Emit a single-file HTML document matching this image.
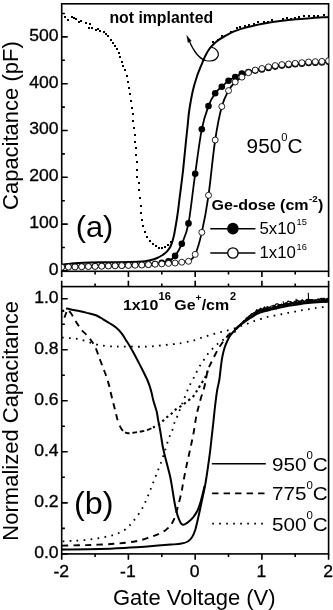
<!DOCTYPE html>
<html><head><meta charset="utf-8"><title>C-V curves</title>
<style>
html,body{margin:0;padding:0;background:#fff;}
body{width:333px;height:610px;overflow:hidden;}
svg{display:block;}
text{font-family:"Liberation Sans",Arial,sans-serif;}
</style></head><body>
<svg width="333" height="610" viewBox="0 0 333 610">
<rect width="333" height="610" fill="#fff"/>
<g stroke="#000" stroke-width="1.6" fill="none">
<rect x="61.7" y="3.8" width="266.9" height="267.5"/>
<rect x="61.7" y="286.6" width="266.9" height="267.3"/>
<path d="M61.7,271.3V277.1M61.7,286.6V280.8M61.7,553.9V559.7M95.1,271.3V274.5M95.1,286.6V283.4M95.1,553.9V557.1M128.4,271.3V277.1M128.4,286.6V280.8M128.4,553.9V559.7M161.8,271.3V274.5M161.8,286.6V283.4M161.8,553.9V557.1M195.2,271.3V277.1M195.2,286.6V280.8M195.2,553.9V559.7M228.5,271.3V274.5M228.5,286.6V283.4M228.5,553.9V557.1M261.9,271.3V277.1M261.9,286.6V280.8M261.9,553.9V559.7M295.2,271.3V274.5M295.2,286.6V283.4M295.2,553.9V557.1M328.6,271.3V277.1M328.6,286.6V280.8M328.6,553.9V559.7M61.7,270.9H67.7M61.7,247.5H64.9M61.7,224.1H67.7M61.7,200.7H64.9M61.7,177.3H67.7M61.7,153.9H64.9M61.7,130.5H67.7M61.7,107.1H64.9M61.7,83.7H67.7M61.7,60.3H64.9M61.7,36.9H67.7M61.7,13.5H64.9M61.7,553.9H67.7M61.7,528.4H64.9M61.7,502.9H67.7M61.7,477.3H64.9M61.7,451.8H67.7M61.7,426.3H64.9M61.7,400.8H67.7M61.7,375.3H64.9M61.7,349.7H67.7M61.7,324.2H64.9M61.7,298.7H67.7"/>
</g>
<g fill="#000" stroke="#000" stroke-width="0.3">
<text font-size="16.00" text-anchor="end" transform="translate(58.60,274.70) scale(1.100,1)">0</text>
<text font-size="16.00" text-anchor="end" transform="translate(58.60,227.90) scale(1.100,1)">100</text>
<text font-size="16.00" text-anchor="end" transform="translate(58.60,181.10) scale(1.100,1)">200</text>
<text font-size="16.00" text-anchor="end" transform="translate(58.60,134.30) scale(1.100,1)">300</text>
<text font-size="16.00" text-anchor="end" transform="translate(58.60,87.50) scale(1.100,1)">400</text>
<text font-size="16.00" text-anchor="end" transform="translate(58.60,40.70) scale(1.100,1)">500</text>
<text font-size="16.00" text-anchor="end" transform="translate(58.60,558.30) scale(1.100,1)">0.0</text>
<text font-size="16.00" text-anchor="end" transform="translate(58.60,507.26) scale(1.100,1)">0.2</text>
<text font-size="16.00" text-anchor="end" transform="translate(58.60,456.22) scale(1.100,1)">0.4</text>
<text font-size="16.00" text-anchor="end" transform="translate(58.60,405.18) scale(1.100,1)">0.6</text>
<text font-size="16.00" text-anchor="end" transform="translate(58.60,354.14) scale(1.100,1)">0.8</text>
<text font-size="16.00" text-anchor="end" transform="translate(58.60,303.10) scale(1.100,1)">1.0</text>
<text font-size="16.00" text-anchor="middle" transform="translate(61.20,577.30) scale(1.100,1)">-2</text>
<text font-size="16.00" text-anchor="middle" transform="translate(127.93,577.30) scale(1.100,1)">-1</text>
<text font-size="16.00" text-anchor="middle" transform="translate(194.65,577.30) scale(1.100,1)">0</text>
<text font-size="16.00" text-anchor="middle" transform="translate(261.38,577.30) scale(1.100,1)">1</text>
<text font-size="16.00" text-anchor="middle" transform="translate(328.10,577.30) scale(1.100,1)">2</text>
</g>
<text font-size="22.00" text-anchor="middle" transform="translate(17.80,125.60) rotate(-90)">Capacitance (pF)</text>
<text font-size="22.00" text-anchor="middle" transform="translate(17.80,420.80) rotate(-90)">Normalized Capacitance</text>
<text font-size="22.00" text-anchor="middle" transform="translate(194.30,604.80)">Gate Voltage (V)</text>
<g fill="#000">
<rect x="64" y="16" width="2" height="2"/>
<rect x="67" y="19" width="2" height="2"/>
<rect x="71" y="16" width="2" height="2"/>
<rect x="73" y="17" width="2" height="2"/>
<rect x="75" y="18" width="2" height="2"/>
<rect x="78" y="21" width="2" height="2"/>
<rect x="80" y="20" width="2" height="2"/>
<rect x="85" y="22" width="2" height="2"/>
<rect x="89" y="23" width="2" height="2"/>
<rect x="88" y="27" width="2" height="2"/>
<rect x="91" y="27" width="2" height="2"/>
<rect x="95" y="29" width="2" height="2"/>
<rect x="97" y="28" width="2" height="2"/>
<rect x="99" y="30" width="2" height="2"/>
<rect x="103" y="31" width="2" height="2"/>
<rect x="105" y="33" width="2" height="2"/>
<rect x="107" y="35" width="2" height="2"/>
<rect x="110" y="39" width="2" height="2"/>
<rect x="112" y="42" width="2" height="2"/>
<rect x="114" y="45" width="2" height="2"/>
<rect x="116" y="48" width="2" height="2"/>
<rect x="118" y="52" width="2" height="2"/>
<rect x="119" y="56" width="2" height="2"/>
<rect x="121" y="61" width="2" height="2"/>
<rect x="122" y="65" width="2" height="2"/>
<rect x="124" y="69" width="2" height="2"/>
<rect x="126" y="75" width="2" height="2"/>
<rect x="127" y="81" width="2" height="2"/>
<rect x="128" y="87" width="2" height="2"/>
<rect x="129" y="93" width="2" height="2"/>
<rect x="130" y="100" width="2" height="2"/>
<rect x="131" y="107" width="2" height="2"/>
<rect x="132" y="113" width="2" height="2"/>
<rect x="132" y="120" width="2" height="2"/>
<rect x="133" y="127" width="2" height="2"/>
<rect x="134" y="134" width="2" height="2"/>
<rect x="134" y="141" width="2" height="2"/>
<rect x="135" y="147" width="2" height="2"/>
<rect x="135" y="154" width="2" height="2"/>
<rect x="136" y="161" width="2" height="2"/>
<rect x="136" y="169" width="2" height="2"/>
<rect x="136" y="176" width="2" height="2"/>
<rect x="138" y="182" width="2" height="2"/>
<rect x="138" y="189" width="2" height="2"/>
<rect x="139" y="197" width="2" height="2"/>
<rect x="140" y="205" width="2" height="2"/>
<rect x="140" y="212" width="2" height="2"/>
<rect x="141" y="219" width="2" height="2"/>
<rect x="142" y="225" width="2" height="2"/>
<rect x="144" y="231" width="2" height="2"/>
<rect x="146" y="236" width="2" height="2"/>
<rect x="149" y="240" width="2" height="2"/>
<rect x="152" y="243" width="2" height="2"/>
<rect x="155" y="245" width="2" height="2"/>
<rect x="158" y="247" width="2" height="2"/>
<rect x="161" y="247" width="2" height="2"/>
<rect x="164" y="246" width="2" height="2"/>
<rect x="167" y="244" width="2" height="2"/>
<rect x="170" y="241" width="2" height="2"/>
<rect x="212" y="41" width="2" height="2"/>
<rect x="217" y="39" width="2" height="2"/>
<rect x="221" y="35" width="2" height="2"/>
<rect x="230" y="31" width="2" height="2"/>
<rect x="236" y="27" width="2" height="2"/>
<rect x="239" y="26" width="2" height="2"/>
<rect x="244" y="25" width="2" height="2"/>
<rect x="248" y="24" width="2" height="2"/>
<rect x="253" y="23" width="2" height="2"/>
<rect x="257" y="21" width="2" height="2"/>
<rect x="263" y="21" width="2" height="2"/>
<rect x="267" y="21" width="2" height="2"/>
<rect x="271" y="19" width="2" height="2"/>
<rect x="282" y="18" width="2" height="2"/>
<rect x="286" y="17" width="2" height="2"/>
<rect x="290" y="18" width="2" height="2"/>
<rect x="294" y="17" width="2" height="2"/>
<rect x="298" y="16" width="2" height="2"/>
<rect x="303" y="15" width="2" height="2"/>
<rect x="308" y="15" width="2" height="2"/>
<rect x="313" y="15" width="2" height="2"/>
<rect x="317" y="15" width="2" height="2"/>
<rect x="323" y="14" width="2" height="2"/>
</g>
<path d="M61.8,264.6 C63.2,264.5 67.3,264.0 70.0,263.7 C72.7,263.4 73.0,263.2 78.0,263.0 C83.0,262.8 91.3,262.5 100.0,262.3 C108.7,262.1 122.5,262.2 130.0,262.0 C137.5,261.8 141.7,261.5 145.0,261.2 C148.3,260.9 148.0,260.8 150.0,260.3 C152.0,259.8 155.1,258.9 157.2,258.0 C159.3,257.1 160.9,256.1 162.6,255.0 C164.2,253.9 165.8,252.9 167.1,251.4 C168.4,249.9 169.6,248.3 170.7,246.0 C171.8,243.7 172.7,240.7 173.4,237.8 C174.2,234.9 174.6,232.1 175.2,228.8 C175.8,225.5 176.4,221.6 177.0,218.0 C177.6,214.4 178.1,210.5 178.5,207.2 C178.9,203.9 179.2,201.2 179.6,198.0 C180.0,194.8 180.3,192.7 180.9,188.0 C181.5,183.3 182.5,175.5 183.1,170.0 C183.7,164.5 184.1,160.0 184.6,155.0 C185.1,150.0 185.6,145.0 186.1,140.0 C186.6,135.0 187.2,130.0 187.7,125.0 C188.2,120.0 188.4,115.8 189.3,110.0 C190.2,104.2 191.7,95.6 193.0,90.0 C194.3,84.4 195.9,79.5 197.0,76.2 C198.1,72.9 198.4,72.5 199.3,70.2 C200.2,67.9 201.5,64.8 202.5,62.3 C203.5,59.8 204.4,57.7 205.5,55.5 C206.6,53.3 207.9,50.9 209.3,49.0 C210.7,47.1 212.2,45.5 213.8,44.0 C215.4,42.5 217.1,41.0 219.0,39.7 C220.9,38.4 222.4,37.4 225.0,36.0 C227.6,34.6 230.9,32.6 234.7,31.1 C238.5,29.6 242.8,28.2 247.7,27.0 C252.6,25.8 258.6,24.6 264.0,23.6 C269.4,22.6 274.8,21.7 280.2,21.0 C285.6,20.3 291.0,19.7 296.4,19.2 C301.8,18.7 307.3,18.4 312.7,18.0 C318.1,17.6 326.0,17.2 328.6,17.0" fill="none" stroke="#000" stroke-width="2"/>
<path d="M61.7,267.0 C62.8,267.0 66.1,266.9 68.4,266.8 C70.6,266.8 72.8,266.7 75.0,266.7 C77.3,266.6 79.5,266.6 81.7,266.5 C83.9,266.5 86.2,266.4 88.4,266.3 C90.6,266.3 92.8,266.2 95.1,266.2 C97.3,266.1 99.5,266.1 101.7,266.0 C104.0,265.9 106.2,265.9 108.4,265.8 C110.6,265.7 112.9,265.7 115.1,265.6 C117.3,265.5 119.5,265.5 121.8,265.4 C124.0,265.3 126.2,265.3 128.4,265.2 C130.6,265.1 132.9,265.1 135.1,265.0 C137.3,264.9 139.5,264.9 141.8,264.8 C144.0,264.7 146.2,264.5 148.4,264.4 C150.7,264.3 152.9,264.3 155.1,264.0 C157.3,263.8 159.6,263.3 161.8,262.8 C164.0,262.3 166.2,262.4 168.5,261.3 C170.7,260.2 172.9,258.8 175.1,255.9 C177.4,253.0 179.6,249.2 181.8,243.8 C184.0,238.4 186.3,235.1 188.5,223.4 C190.7,211.7 192.9,189.5 195.2,173.8 C197.4,158.1 199.6,140.5 201.8,129.2 C204.0,117.9 206.3,112.0 208.5,106.0 C210.7,100.0 212.9,96.5 215.2,93.3 C217.4,90.1 219.6,88.8 221.8,86.7 C224.1,84.6 226.3,82.3 228.5,80.7 C230.7,79.1 233.0,78.3 235.2,77.1 C237.4,75.9 239.6,74.3 241.9,73.5 C244.1,72.7 246.3,72.5 248.5,72.0 C250.8,71.5 253.0,71.0 255.2,70.6 C257.4,70.2 259.7,70.0 261.9,69.5 C264.1,69.0 266.3,68.4 268.5,67.9 C270.8,67.4 273.0,67.0 275.2,66.6 C277.4,66.2 279.7,65.9 281.9,65.6 C284.1,65.3 286.3,65.2 288.6,65.0 C290.8,64.8 293.0,64.5 295.2,64.3 C297.5,64.1 299.7,63.9 301.9,63.7 C304.1,63.5 306.4,63.2 308.6,63.0 C310.8,62.8 313.0,62.8 315.3,62.7 C317.5,62.6 319.7,62.6 321.9,62.4 C324.2,62.2 327.5,61.8 328.6,61.7" fill="none" stroke="#000" stroke-width="1.8"/>
<path d="M61.7,267.2 C62.8,267.2 66.1,267.1 68.4,267.0 C70.6,267.0 72.8,266.9 75.0,266.9 C77.3,266.8 79.5,266.8 81.7,266.7 C83.9,266.7 86.2,266.6 88.4,266.5 C90.6,266.5 92.8,266.4 95.1,266.4 C97.3,266.3 99.5,266.3 101.7,266.2 C104.0,266.1 106.2,266.1 108.4,266.0 C110.6,265.9 112.9,265.9 115.1,265.8 C117.3,265.7 119.5,265.7 121.8,265.6 C124.0,265.5 126.2,265.5 128.4,265.4 C130.6,265.3 132.9,265.3 135.1,265.2 C137.3,265.1 139.5,265.1 141.8,265.0 C144.0,264.9 146.2,264.7 148.4,264.6 C150.7,264.5 152.9,264.3 155.1,264.2 C157.3,264.1 159.6,264.0 161.8,263.9 C164.0,263.7 166.2,263.5 168.5,263.4 C170.7,263.3 172.9,263.2 175.1,263.0 C177.4,262.8 179.6,262.5 181.8,262.2 C184.0,261.9 186.3,262.6 188.5,261.3 C190.7,260.0 192.9,259.2 195.2,254.4 C197.4,249.6 199.6,242.2 201.8,232.4 C204.0,222.6 206.3,210.7 208.5,195.3 C210.7,179.9 212.9,154.8 215.2,140.0 C217.4,125.2 219.6,114.7 221.8,106.5 C224.1,98.3 226.3,94.7 228.5,90.6 C230.7,86.5 233.0,84.2 235.2,82.0 C237.4,79.8 239.6,78.6 241.9,77.1 C244.1,75.5 246.3,73.9 248.5,72.7 C250.8,71.5 253.0,70.8 255.2,70.1 C257.4,69.4 259.7,69.0 261.9,68.5 C264.1,68.0 266.3,67.4 268.5,66.9 C270.8,66.4 273.0,66.0 275.2,65.6 C277.4,65.2 279.7,64.9 281.9,64.6 C284.1,64.3 286.3,64.2 288.6,64.0 C290.8,63.8 293.0,63.5 295.2,63.3 C297.5,63.1 299.7,62.9 301.9,62.7 C304.1,62.5 306.4,62.2 308.6,62.0 C310.8,61.8 313.0,61.8 315.3,61.7 C317.5,61.6 319.7,61.6 321.9,61.4 C324.2,61.2 327.5,60.8 328.6,60.7" fill="none" stroke="#000" stroke-width="1.8"/>
<defs><clipPath id="pc"><rect x="61.7" y="0" width="266.9" height="610"/></clipPath></defs>
<g clip-path="url(#pc)">
<g fill="#000">
<circle cx="61.7" cy="267.0" r="3.3"/>
<circle cx="68.4" cy="266.8" r="3.3"/>
<circle cx="75.0" cy="266.7" r="3.3"/>
<circle cx="81.7" cy="266.5" r="3.3"/>
<circle cx="88.4" cy="266.3" r="3.3"/>
<circle cx="95.1" cy="266.2" r="3.3"/>
<circle cx="101.7" cy="266.0" r="3.3"/>
<circle cx="108.4" cy="265.8" r="3.3"/>
<circle cx="115.1" cy="265.6" r="3.3"/>
<circle cx="121.8" cy="265.4" r="3.3"/>
<circle cx="128.4" cy="265.2" r="3.3"/>
<circle cx="135.1" cy="265.0" r="3.3"/>
<circle cx="141.8" cy="264.8" r="3.3"/>
<circle cx="148.4" cy="264.4" r="3.3"/>
<circle cx="155.1" cy="264.0" r="3.3"/>
<circle cx="161.8" cy="262.8" r="3.3"/>
<circle cx="168.5" cy="261.3" r="3.3"/>
<circle cx="175.1" cy="255.9" r="3.3"/>
<circle cx="181.8" cy="243.8" r="3.3"/>
<circle cx="188.5" cy="223.4" r="3.3"/>
<circle cx="195.2" cy="173.8" r="3.3"/>
<circle cx="201.8" cy="129.2" r="3.3"/>
<circle cx="208.5" cy="106.0" r="3.3"/>
<circle cx="215.2" cy="93.3" r="3.3"/>
<circle cx="221.8" cy="86.7" r="3.3"/>
<circle cx="228.5" cy="80.7" r="3.3"/>
<circle cx="235.2" cy="77.1" r="3.3"/>
<circle cx="241.9" cy="73.5" r="3.3"/>
<circle cx="248.5" cy="72.0" r="3.3"/>
<circle cx="255.2" cy="70.6" r="3.3"/>
<circle cx="261.9" cy="69.5" r="3.3"/>
<circle cx="268.5" cy="67.9" r="3.3"/>
<circle cx="275.2" cy="66.6" r="3.3"/>
<circle cx="281.9" cy="65.6" r="3.3"/>
<circle cx="288.6" cy="65.0" r="3.3"/>
<circle cx="295.2" cy="64.3" r="3.3"/>
<circle cx="301.9" cy="63.7" r="3.3"/>
<circle cx="308.6" cy="63.0" r="3.3"/>
<circle cx="315.3" cy="62.7" r="3.3"/>
<circle cx="321.9" cy="62.4" r="3.3"/>
<circle cx="328.6" cy="61.7" r="3.3"/>
</g>
<g fill="#fff" stroke="#000" stroke-width="0.85">
<circle cx="61.7" cy="267.2" r="3.0"/>
<circle cx="68.4" cy="267.0" r="3.0"/>
<circle cx="75.0" cy="266.9" r="3.0"/>
<circle cx="81.7" cy="266.7" r="3.0"/>
<circle cx="88.4" cy="266.5" r="3.0"/>
<circle cx="95.1" cy="266.4" r="3.0"/>
<circle cx="101.7" cy="266.2" r="3.0"/>
<circle cx="108.4" cy="266.0" r="3.0"/>
<circle cx="115.1" cy="265.8" r="3.0"/>
<circle cx="121.8" cy="265.6" r="3.0"/>
<circle cx="128.4" cy="265.4" r="3.0"/>
<circle cx="135.1" cy="265.2" r="3.0"/>
<circle cx="141.8" cy="265.0" r="3.0"/>
<circle cx="148.4" cy="264.6" r="3.0"/>
<circle cx="155.1" cy="264.2" r="3.0"/>
<circle cx="161.8" cy="263.9" r="3.0"/>
<circle cx="168.5" cy="263.4" r="3.0"/>
<circle cx="175.1" cy="263.0" r="3.0"/>
<circle cx="181.8" cy="262.2" r="3.0"/>
<circle cx="188.5" cy="261.3" r="3.0"/>
<circle cx="195.2" cy="254.4" r="3.0"/>
<circle cx="201.8" cy="232.4" r="3.0"/>
<circle cx="208.5" cy="195.3" r="3.0"/>
<circle cx="215.2" cy="140.0" r="3.0"/>
<circle cx="221.8" cy="106.5" r="3.0"/>
<circle cx="228.5" cy="90.6" r="3.0"/>
<circle cx="235.2" cy="82.0" r="3.0"/>
<circle cx="241.9" cy="77.1" r="3.0"/>
<circle cx="248.5" cy="72.7" r="3.0"/>
<circle cx="255.2" cy="70.1" r="3.0"/>
<circle cx="261.9" cy="68.5" r="3.0"/>
<circle cx="268.5" cy="66.9" r="3.0"/>
<circle cx="275.2" cy="65.6" r="3.0"/>
<circle cx="281.9" cy="64.6" r="3.0"/>
<circle cx="288.6" cy="64.0" r="3.0"/>
<circle cx="295.2" cy="63.3" r="3.0"/>
<circle cx="301.9" cy="62.7" r="3.0"/>
<circle cx="308.6" cy="62.0" r="3.0"/>
<circle cx="315.3" cy="61.7" r="3.0"/>
<circle cx="321.9" cy="61.4" r="3.0"/>
<circle cx="328.6" cy="60.7" r="3.0"/>
</g>
</g>
<path d="M211.5,47.3 C216,48 219,52 218.3,55.5 C217,60 212,61.5 206.5,60.8 C200,59.5 193.5,51 189.4,41.2" fill="none" stroke="#000" stroke-width="1.15"/>
<path d="M186.7,35.4 L191.3,40.9 L188.0,42.5 Z" fill="#000" stroke="#000" stroke-width="0.4" stroke-linejoin="round"/>
<text font-size="15.60" font-weight="bold" transform="translate(109.40,23.40) scale(1.015,1)">not implanted</text>
<text font-size="19.50" transform="translate(246.60,152.60) scale(1.065,1)">950<tspan font-size="10.5" dy="-11.8">0</tspan><tspan dy="11.8">C</tspan></text>
<text font-size="29.50" transform="translate(75.70,236.80) scale(1.040,1)">(a)</text>
<text font-size="15.50" font-weight="bold" transform="translate(211.50,209.80) scale(1.035,1)">Ge-dose (cm<tspan font-size="9.4" dx="0.4" dy="-8.0">-2</tspan><tspan dx="0.3" dy="8.0">)</tspan></text>
<path d="M210.3,228.8H255.4M210.3,253H255.4" stroke="#000" stroke-width="1.4"/>
<circle cx="232.9" cy="228.6" r="5.8" fill="#000"/>
<circle cx="232.9" cy="253" r="5.2" fill="#fff" stroke="#000" stroke-width="1.3"/>
<text font-size="15.60" transform="translate(259.40,234.00) scale(1.080,1)">5x10<tspan font-size="8.6" dx="0.6" dy="-8.6">15</tspan></text>
<text font-size="15.60" transform="translate(259.40,258.20) scale(1.080,1)">1x10<tspan font-size="8.6" dx="0.6" dy="-8.6">16</tspan></text>
<g fill="none" stroke="#000" stroke-width="2">
<path d="M62.0,549.5 C68.3,549.4 88.7,549.2 100.0,548.9 C111.3,548.6 121.7,548.0 130.0,547.6 C138.3,547.2 143.2,546.7 150.0,546.2 C156.8,545.7 165.8,545.0 171.0,544.6 C176.2,544.2 178.7,544.1 181.5,543.6 C184.3,543.1 186.1,542.5 187.8,541.5 C189.6,540.5 190.8,539.2 192.0,537.3 C193.2,535.4 194.1,533.3 195.2,530.0 C196.2,526.7 197.2,521.9 198.3,517.3 C199.4,512.7 200.5,507.2 201.5,502.6 C202.5,498.1 203.5,493.4 204.2,490.0 C204.9,486.6 205.0,486.1 205.6,482.5 C206.2,478.9 207.1,473.3 207.8,468.1 C208.6,462.9 209.4,456.9 210.1,451.3 C210.8,445.7 211.4,439.6 212.0,434.4 C212.6,429.2 213.1,424.9 213.6,420.0 C214.1,415.1 214.6,410.0 215.2,405.0 C215.8,400.0 216.5,394.2 217.2,390.0 C217.9,385.8 218.7,383.8 219.3,380.0 C219.9,376.2 220.3,371.3 220.8,367.5 C221.3,363.7 221.7,360.2 222.3,357.0 C222.9,353.8 223.6,350.8 224.5,348.0 C225.4,345.2 226.5,342.6 227.5,340.5 C228.5,338.4 229.4,336.9 230.5,335.3 C231.6,333.7 232.7,332.5 234.3,330.8 C235.9,329.1 237.4,327.5 240.0,325.4 C242.6,323.3 246.7,320.3 250.0,318.2 C253.3,316.1 256.2,314.1 260.0,312.6 C263.8,311.1 268.3,310.4 272.5,309.4 C276.7,308.4 280.8,307.3 285.0,306.5 C289.2,305.7 294.2,305.1 297.5,304.6 C300.8,304.1 301.7,303.7 305.0,303.3 C308.3,302.9 313.6,302.6 317.5,302.3 C321.4,302.0 326.8,301.8 328.6,301.7"/>
<path d="M66.2,309.2 C66.4,309.1 66.4,308.6 67.2,308.6 C68.0,308.6 69.0,309.0 70.8,309.4 C72.6,309.8 75.3,310.1 78.0,310.7 C80.7,311.3 84.0,312.1 87.0,312.9 C90.0,313.6 93.3,314.1 96.0,315.2 C98.7,316.3 100.9,317.9 103.2,319.3 C105.5,320.7 107.8,322.1 110.0,323.5 C112.2,324.9 114.4,326.2 116.3,327.8 C118.2,329.4 120.0,331.4 121.6,333.4 C123.2,335.4 124.4,337.7 125.8,339.9 C127.2,342.1 128.6,344.1 130.0,346.5 C131.4,348.9 132.8,351.4 134.2,354.0 C135.6,356.6 137.0,359.3 138.4,362.0 C139.8,364.7 140.9,366.8 142.5,370.0 C144.1,373.2 146.4,377.6 147.8,381.0 C149.2,384.4 150.1,387.2 151.0,390.4 C151.9,393.6 152.5,397.4 153.2,400.0 C153.9,402.6 154.4,404.0 155.0,406.0 C155.6,408.0 156.3,409.8 156.8,412.0 C157.3,414.2 157.6,416.7 158.0,419.2 C158.4,421.7 159.0,424.5 159.5,427.0 C160.0,429.5 160.2,430.8 160.8,434.4 C161.4,438.0 162.2,444.0 163.2,448.8 C164.2,453.6 165.6,458.5 166.8,463.3 C168.0,468.1 169.5,473.2 170.4,477.7 C171.3,482.1 171.9,486.2 172.5,490.0 C173.1,493.8 173.6,497.0 174.2,500.5 C174.8,504.0 175.5,507.9 176.3,511.0 C177.1,514.1 178.1,517.2 179.0,519.4 C179.9,521.6 180.6,523.2 181.5,524.0 C182.4,524.8 183.5,524.8 184.7,524.4 C185.9,524.0 187.5,522.7 188.9,521.5 C190.3,520.3 191.7,519.0 193.1,517.3 C194.5,515.5 196.1,513.5 197.3,511.0 C198.5,508.6 199.4,505.9 200.4,502.6 C201.4,499.3 202.7,493.8 203.4,491.0 C204.1,488.2 204.4,486.8 204.6,486.0"/>
</g>
<path d="M236.0,329.2 L237.3,327.9 L238.6,326.5 L239.9,324.9 L241.2,324.1 L242.5,323.0 L243.8,322.0 L245.1,320.8 L246.4,319.9 L247.7,318.7 L249.0,317.3 L250.3,317.3 L251.6,316.6 L252.9,316.4 L254.2,314.7 L255.5,313.6 L256.8,312.8 L258.1,311.4 L259.4,312.4 L260.7,310.5 L262.0,310.1 L263.3,310.4 L264.6,311.3 L265.9,310.1 L267.2,308.8 L268.5,308.7 L269.8,309.3 L271.1,308.4 L272.4,307.7 L273.7,307.8 L275.0,308.1 L276.3,308.7 L277.6,306.1 L278.9,306.3 L280.2,305.9 L281.5,304.4 L282.8,305.2 L284.1,304.8 L285.4,306.0 L286.7,304.9 L288.0,303.7 L289.3,305.1 L290.6,304.2 L291.9,303.0 L293.2,303.6 L294.5,303.4 L295.8,303.0 L297.1,303.5 L298.4,301.7 L299.7,302.8 L301.0,303.5 L302.3,303.2 L303.6,303.1 L304.9,302.9 L306.2,303.0 L307.5,301.1 L308.8,302.4 L310.1,300.4 L311.4,301.2 L312.7,300.1 L314.0,302.1 L315.3,302.2 L316.6,301.0 L317.9,302.3 L319.2,300.5 L320.5,301.0 L321.8,301.0 L323.1,300.1 L324.4,301.0 L325.7,302.0 L327.0,299.9 L328.3,301.1" fill="none" stroke="#000" stroke-width="1.6" stroke-linejoin="round"/>
<path d="M236.0,329.2 L237.3,327.9 L238.6,326.4 L239.9,325.0 L241.2,323.9 L242.5,322.7 L243.8,321.0 L245.1,320.8 L246.4,318.6 L247.7,318.2 L249.0,317.2 L250.3,315.4 L251.6,315.1 L252.9,315.1 L254.2,313.5 L255.5,312.1 L256.8,309.8 L258.1,310.6 L259.4,310.2 L260.7,309.7 L262.0,309.0 L263.3,309.8 L264.6,308.7 L265.9,308.7 L267.2,309.0 L268.5,307.4 L269.8,307.6 L271.1,309.2 L272.4,307.8 L273.7,305.8 L275.0,306.5 L276.3,306.7 L277.6,306.9 L278.9,305.7 L280.2,304.9 L281.5,304.4 L282.8,305.2 L284.1,304.7 L285.4,303.7 L286.7,303.8 L288.0,303.4 L289.3,304.1 L290.6,302.8 L291.9,303.5 L293.2,303.6 L294.5,303.1 L295.8,301.9 L297.1,303.4 L298.4,301.6 L299.7,302.3 L301.0,301.1 L302.3,300.1 L303.6,301.4 L304.9,301.2 L306.2,300.8 L307.5,301.0 L308.8,300.2 L310.1,300.0 L311.4,300.4 L312.7,301.9 L314.0,300.9 L315.3,299.8 L316.6,300.5 L317.9,299.6 L319.2,299.5 L320.5,300.5 L321.8,299.3 L323.1,298.4 L324.4,298.9 L325.7,299.6 L327.0,299.6 L328.3,300.4" fill="none" stroke="#000" stroke-width="1.5" stroke-linejoin="round"/>
<path d="M236.0,329.2 L237.3,327.7 L238.6,326.2 L239.9,324.6 L241.2,323.6 L242.5,322.4 L243.8,320.7 L245.1,320.2 L246.4,318.0 L247.7,317.4 L249.0,316.1 L250.3,315.3 L251.6,313.6 L252.9,313.3 L254.2,312.5 L255.5,312.8 L256.8,310.5 L258.1,310.5 L259.4,309.5 L260.7,308.1 L262.0,311.3 L263.3,308.5 L264.6,306.9 L265.9,309.2 L267.2,306.6 L268.5,307.6 L269.8,307.7 L271.1,306.0 L272.4,305.8 L273.7,305.4 L275.0,305.5 L276.3,303.9 L277.6,303.9 L278.9,304.6 L280.2,305.3 L281.5,304.7 L282.8,305.4 L284.1,304.1 L285.4,302.8 L286.7,302.9 L288.0,301.0 L289.3,301.8 L290.6,301.5 L291.9,302.5 L293.2,302.6 L294.5,301.4 L295.8,301.1 L297.1,300.1 L298.4,301.1 L299.7,301.2 L301.0,301.2 L302.3,299.9 L303.6,302.1 L304.9,301.2 L306.2,299.9 L307.5,299.4 L308.8,299.5 L310.1,299.8 L311.4,299.6 L312.7,299.9 L314.0,300.1 L315.3,300.5 L316.6,300.2 L317.9,299.0 L319.2,299.4 L320.5,298.6 L321.8,298.3 L323.1,300.5 L324.4,298.3 L325.7,300.4 L327.0,298.3 L328.3,298.7" fill="none" stroke="#000" stroke-width="1.2" stroke-linejoin="round"/>
<path d="M308.6,300.5 L308.3,292.8 M296.5,302.5 L296,298.8 M283.5,304.5 L283.2,301.2 M265.5,311 L265.8,307.5 M249.5,318.5 L249,315.8" stroke="#000" stroke-width="1.1"/>
<g fill="none" stroke="#000" stroke-width="1.9" stroke-dasharray="6.3 5.2">
<path d="M62.0,545.6 C66.2,545.5 78.3,545.4 87.0,545.1 C95.7,544.8 105.9,544.4 114.0,543.8 C122.1,543.2 129.7,542.4 135.7,541.3 C141.7,540.2 146.2,538.4 150.0,537.2 C153.8,536.0 155.8,535.3 158.4,534.1 C161.0,532.9 163.7,531.5 165.8,529.9 C167.9,528.3 169.4,527.0 171.0,524.7 C172.6,522.4 174.0,519.6 175.2,516.3 C176.4,513.0 177.3,508.8 178.4,504.7 C179.5,500.6 180.8,495.3 181.5,492.0 C182.2,488.7 182.1,488.9 182.8,484.9 C183.6,480.9 184.8,473.7 186.0,468.1 C187.2,462.5 188.5,456.9 189.7,451.3 C190.9,445.7 192.2,440.1 193.3,434.4 C194.4,428.7 195.3,421.6 196.1,417.3 C196.9,413.0 197.3,411.6 198.1,408.5 C198.9,405.4 199.8,401.9 200.8,398.4 C201.8,394.9 203.3,391.1 204.2,387.6 C205.1,384.1 205.6,380.5 206.2,377.5 C206.8,374.5 207.2,372.2 208.0,369.8 C208.8,367.4 210.0,365.1 211.0,363.0 C212.0,360.9 212.9,359.2 214.0,357.0 C215.1,354.8 216.7,351.5 217.8,349.5 C218.9,347.5 219.7,346.6 220.8,345.0 C221.9,343.4 223.1,341.6 224.5,339.8 C225.9,338.1 227.5,336.0 229.0,334.5 C230.5,333.0 231.7,332.4 233.5,330.8 C235.3,329.2 237.2,326.9 240.0,324.6 C242.8,322.3 246.7,319.2 250.0,317.0 C253.3,314.8 256.2,312.9 260.0,311.4 C263.8,309.9 268.3,309.1 272.5,308.0 C276.7,306.9 280.8,305.8 285.0,305.0 C289.2,304.2 294.2,303.5 297.5,303.0 C300.8,302.5 301.7,302.4 305.0,302.0 C308.3,301.6 313.6,301.2 317.5,300.9 C321.4,300.6 326.8,300.4 328.6,300.3"/>
<path d="M66.3,308.5 C67.0,309.2 69.1,310.8 70.8,313.0 C72.5,315.2 74.4,319.2 76.2,322.0 C78.0,324.8 79.8,327.8 81.6,330.0 C83.4,332.2 85.3,333.4 87.0,335.2 C88.7,337.0 90.2,339.1 91.5,341.0 C92.8,342.9 94.0,344.7 95.1,346.8 C96.1,348.9 96.9,351.1 97.8,353.5 C98.7,355.9 99.5,358.4 100.5,361.0 C101.5,363.6 102.7,366.6 103.7,369.4 C104.8,372.2 105.9,375.0 106.8,377.8 C107.7,380.6 108.6,383.4 109.3,386.2 C110.0,389.0 110.5,391.8 111.2,394.6 C111.9,397.4 112.6,400.4 113.3,403.0 C114.0,405.6 114.5,407.9 115.2,410.5 C115.9,413.1 116.5,416.1 117.3,418.9 C118.1,421.6 119.8,425.6 120.3,427.0" stroke-dashoffset="7.5"/>
<path d="M120.3,427.0 C120.8,427.8 122.3,430.5 123.6,431.5 C124.8,432.5 126.0,433.0 127.8,433.2 C129.6,433.4 132.0,432.9 134.1,432.6 C136.2,432.3 138.3,432.0 140.4,431.6 C142.5,431.2 144.6,431.0 146.7,430.3 C148.8,429.6 151.9,428.0 153.0,427.5" stroke-dasharray="4.6 2.8"/>
<path d="M153.0,427.5 C154.1,426.9 157.8,425.5 159.8,424.0 C161.8,422.5 163.4,420.1 165.2,418.5 C167.0,416.9 168.6,416.1 170.4,414.6 C172.2,413.1 173.9,410.9 175.8,409.4 C177.7,407.9 180.1,406.9 181.9,405.6 C183.7,404.3 184.8,403.2 186.6,401.8 C188.4,400.4 191.0,398.8 192.7,397.0 C194.4,395.2 195.6,392.9 196.8,391.0 C198.0,389.1 198.7,387.9 200.1,385.5 C201.5,383.1 204.2,379.4 205.5,376.8 C206.8,374.2 207.6,371.0 208.0,369.8" stroke-dasharray="2.3 3.3" stroke-width="2.1"/>
</g>
<path d="M64.4,317.6 L66.5,312.0" stroke="#000" stroke-width="1.9"/>
<path d="M62.0,311.2 L64.2,310.6" stroke="#000" stroke-width="2.2"/>
<g fill="none" stroke="#000" stroke-width="1.8" stroke-dasharray="1.7 5.3">
<path d="M62.0,337.6 C63.3,337.7 67.3,338.0 70.0,338.2 C72.7,338.4 75.2,338.4 78.0,339.0 C80.8,339.6 84.0,340.6 87.0,341.5 C90.0,342.4 93.0,343.6 96.0,344.3 C99.0,345.1 102.0,345.6 105.0,346.0 C108.0,346.4 111.4,346.4 114.0,346.5 C116.6,346.6 117.7,346.5 120.5,346.5 C123.3,346.5 127.5,346.7 131.0,346.7 C134.5,346.7 138.0,346.8 141.5,346.7 C145.0,346.6 148.5,346.5 152.0,346.3 C155.5,346.1 159.0,345.7 162.5,345.3 C166.0,344.9 170.1,344.5 173.0,344.2 C175.9,343.9 177.2,343.8 180.0,343.3 C182.8,342.8 187.3,341.9 190.0,341.3 C192.7,340.7 194.0,340.4 196.0,339.8 C198.0,339.2 200.0,338.3 202.0,337.6 C204.0,336.9 206.0,336.3 208.0,335.7 C210.0,335.1 212.0,334.5 214.0,333.9 C216.0,333.3 218.0,332.8 220.0,332.3 C222.0,331.8 223.7,331.4 226.0,330.8 C228.3,330.2 231.5,329.3 234.0,328.5 C236.5,327.7 238.8,326.7 241.0,325.9 C243.2,325.1 245.3,324.6 247.2,323.8 C249.1,323.1 250.8,322.0 252.5,321.4 C254.2,320.8 255.6,320.8 257.5,320.2 C259.4,319.6 262.0,318.4 263.8,317.8 C265.6,317.2 266.7,317.1 268.3,316.8 C269.9,316.5 271.8,316.1 273.5,315.8 C275.2,315.5 277.1,315.2 278.8,314.8 C280.6,314.4 282.2,314.1 284.0,313.7 C285.8,313.3 287.7,312.9 289.5,312.6 C291.3,312.3 293.2,312.0 294.8,311.7 C296.4,311.4 297.8,311.0 299.3,310.7 C300.8,310.4 302.1,310.2 303.8,309.9 C305.5,309.6 307.7,309.4 309.5,309.1 C311.3,308.8 312.7,308.5 314.8,308.2 C316.9,307.9 320.0,307.5 322.3,307.2 C324.6,306.9 327.6,306.4 328.6,306.2"/>
<path d="M62.7,541.4 C64.5,541.3 69.5,541.0 73.5,540.8 C77.5,540.5 82.5,540.4 87.0,539.9 C91.5,539.4 96.0,538.6 100.5,537.8 C105.0,536.9 109.9,536.1 114.0,534.8 C118.1,533.5 121.7,532.0 124.9,529.8 C128.1,527.6 130.3,524.7 133.0,521.5 C135.7,518.3 138.8,514.1 141.1,510.4 C143.3,506.7 144.8,503.2 146.5,499.4 C148.2,495.6 149.6,491.8 151.2,487.8 C152.8,483.8 154.4,479.4 156.0,475.3 C157.6,471.2 159.2,467.7 160.8,463.3 C162.4,458.9 164.3,453.0 165.6,448.8 C166.9,444.6 167.9,440.9 168.8,438.4 C169.7,435.9 170.3,435.3 171.0,433.6 C171.7,431.9 172.4,430.2 173.0,428.2 C173.6,426.2 174.1,423.5 174.8,421.6 C175.5,419.7 175.8,420.0 177.2,416.6 C178.6,413.2 181.2,406.2 183.2,401.1 C185.2,396.0 187.4,390.4 189.3,386.2 C191.2,382.0 193.4,378.6 194.7,376.1 C196.0,373.6 196.2,372.8 197.0,371.1 C197.8,369.4 198.8,367.6 199.8,366.0 C200.8,364.4 201.8,363.0 202.8,361.5 C203.8,360.0 204.8,358.5 205.8,357.0 C206.8,355.5 207.7,353.9 208.8,352.5 C209.9,351.1 211.2,350.1 212.5,348.8 C213.8,347.6 215.1,346.1 216.3,345.0 C217.6,343.9 218.6,343.0 220.0,342.0 C221.4,341.0 222.8,340.1 224.5,339.0 C226.2,337.9 228.1,336.8 230.0,335.5 C231.9,334.2 235.0,331.8 236.0,331.0"/>
</g>
<text font-size="15.10" font-weight="bold" transform="translate(122.90,309.50) scale(1.055,1)">1x10<tspan font-size="10.6" dx="0.1" dy="-9.2">16</tspan><tspan dx="-0.9" dy="9.2"> Ge</tspan><tspan font-size="9.8" dy="-8.8">+</tspan><tspan dy="8.8">/cm</tspan><tspan font-size="10.4" dx="0.8" dy="-9.4">2</tspan></text>
<text font-size="30.80" transform="translate(74.00,514.00) scale(1.050,1)">(b)</text>
<path d="M211.9,463.8H265.8" stroke="#000" stroke-width="1.6"/>
<path d="M212.1,493.4H266" stroke="#000" stroke-width="1.9" stroke-dasharray="6.4 5.1"/>
<path d="M212.2,523.7H266" stroke="#000" stroke-width="1.8" stroke-dasharray="1.7 5.3"/>
<text font-size="19.00" transform="translate(271.90,470.80) scale(1.090,1)">950<tspan font-size="10.5" dy="-11.6">0</tspan><tspan dy="11.6">C</tspan></text>
<text font-size="19.00" transform="translate(271.90,500.40) scale(1.090,1)">775<tspan font-size="10.5" dy="-11.6">0</tspan><tspan dy="11.6">C</tspan></text>
<text font-size="19.00" transform="translate(271.90,530.80) scale(1.090,1)">500<tspan font-size="10.5" dy="-11.6">0</tspan><tspan dy="11.6">C</tspan></text>
</svg>
</body></html>
